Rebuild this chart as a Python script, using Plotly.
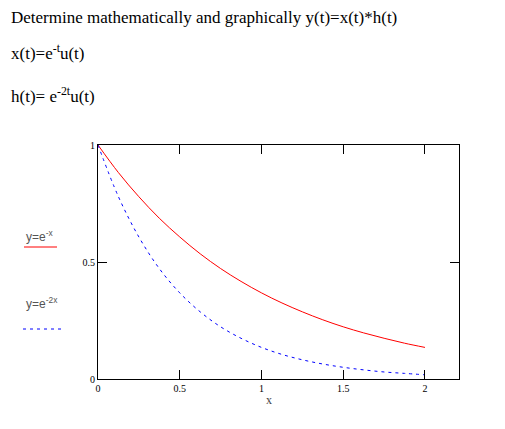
import plotly.graph_objects as go

x_vals = [0, 0.125, 0.25, 0.375, 0.5, 0.625, 0.75, 0.875, 1.0,
          1.125, 1.25, 1.375, 1.5, 1.625, 1.75, 1.875, 2.0]
y_exp1 = [1, .882, .779, .687, .607, .535, .472, .417, .368,
          .325, .287, .253, .223, .197, .174, .153, .135]
y_exp2 = [1, .779, .607, .472, .368, .287, .223, .174, .135,
          .105, .082, .064, .050, .039, .030, .024, .018]
tick_vals = [0, 0.5, 1, 1.5, 2]
tick_text = ["0", "0.5", "1", "1.5", "2"]

# page has ~8px body margin, so work in shifted pixel coords
OX, OY = 7, 8
L, T, W, H = 97 - OX, 145 - OY, 361, 234


def px(x):
    return (x - OX - L) / W


def py(y):
    return (T + H - (y - OY)) / H


fig = go.Figure()
fig.add_trace(go.Scatter(x=x_vals, y=y_exp1, mode="lines", line=dict(color="red", width=1, shape="spline")))
fig.add_trace(go.Scatter(x=x_vals, y=y_exp2, mode="lines",
                         line=dict(color="blue", width=1, dash="3px,4px", shape="spline")))

axis_common = dict(showgrid=False, zeroline=False, ticks="inside", ticklen=9, tickcolor="black",
                   showline=True, linecolor="black", linewidth=1, mirror="ticks",
                   tickfont=dict(family="Liberation Sans Narrow", size=10, color="black"))
fig.update_xaxes(range=[0, 2.208], tickvals=tick_vals, ticktext=tick_text, **axis_common)
fig.update_yaxes(range=[0, 1], tickvals=[0, 0.5, 1], ticktext=["0", "0.5", "1"], **axis_common)

serif = dict(family="Liberation Serif", size=17, color="black")
texts = [
    ("Determine mathematically and graphically y(t)=x(t)*h(t)", 8, 18),
    ("x(t)=e<sup>-t</sup>u(t)", 8, 52),
    ("h(t)= e<sup>-2t</sup>u(t)", 8, 95),
]
for t, x, y in texts:
    fig.add_annotation(text=t, x=px(x), y=py(y), xref="paper", yref="paper",
                       xanchor="left", yanchor="middle", showarrow=False, font=serif)

fig.add_annotation(text="x", x=px(268), y=py(409), xref="paper", yref="paper",
                   showarrow=False, font=dict(family="Liberation Serif", size=12, color="#444"))

leg_font = dict(family="Liberation Sans", size=12, color="#555")
fig.add_annotation(text="y=e<sup>-x</sup>", x=px(23), y=py(236), xref="paper", yref="paper",
                   xanchor="left", showarrow=False, font=leg_font)
fig.add_annotation(text="y=e<sup>-2x</sup>", x=px(23), y=py(313), xref="paper", yref="paper",
                   xanchor="left", showarrow=False, font=leg_font)
fig.add_shape(type="line", xref="paper", yref="paper", x0=px(23), x1=px(56), y0=py(247), y1=py(247),
              line=dict(color="red", width=1))
fig.add_shape(type="line", xref="paper", yref="paper", x0=px(22), x1=px(63), y0=py(329), y1=py(329),
              line=dict(color="blue", width=1, dash="3px,4px"))

fig.update_layout(width=505, height=429, margin=dict(l=L, r=505 - L - W, t=T, b=429 - T - H),
                  paper_bgcolor="white", plot_bgcolor="white", showlegend=False)
fig.write_html("out.html")
